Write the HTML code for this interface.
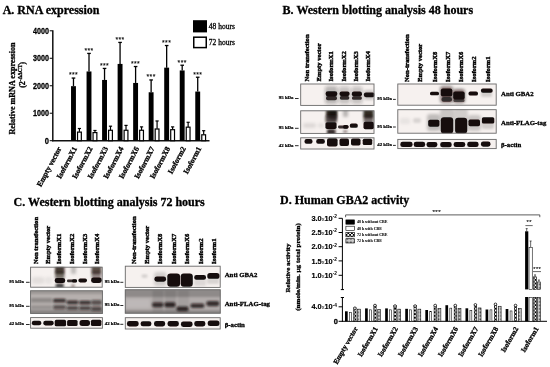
<!DOCTYPE html>
<html><head><meta charset="utf-8"><style>
html,body{margin:0;padding:0;background:#fff;}
svg{display:block;}
text{stroke:#000;stroke-width:0.3px;}
</style></head><body>
<svg width="550" height="367" viewBox="0 0 550 367">
<rect width="550" height="367" fill="#fff"/>
<defs><filter id="bl1" x="-50%" y="-50%" width="200%" height="200%"><feGaussianBlur stdDeviation="0.8"/></filter><filter id="bl2" x="-50%" y="-50%" width="200%" height="200%"><feGaussianBlur stdDeviation="1.1"/></filter><filter id="bl3" x="-50%" y="-50%" width="200%" height="200%"><feGaussianBlur stdDeviation="1.6"/></filter><filter id="bl4" x="-50%" y="-50%" width="200%" height="200%"><feGaussianBlur stdDeviation="2.2"/></filter><filter id="bl5" x="-50%" y="-50%" width="200%" height="200%"><feGaussianBlur stdDeviation="3.0"/></filter><filter id="bl6" x="-50%" y="-50%" width="200%" height="200%"><feGaussianBlur stdDeviation="0.55"/></filter></defs>
<text x="2.70" y="13.60" font-family="'Liberation Serif', 'Times New Roman', serif" font-size="12" font-weight="bold" text-anchor="start" >A. RNA expression</text>
<line x1="52.8" y1="30.2" x2="52.8" y2="141.29999999999998" stroke="#111" stroke-width="1.5"/>
<line x1="52.0" y1="140.7" x2="209.5" y2="140.7" stroke="#111" stroke-width="1.5"/>
<line x1="49.7" y1="140.70" x2="52.5" y2="140.70" stroke="#000" stroke-width="1"/>
<text x="49.00" y="143.90" font-family="'Liberation Sans', Arial, sans-serif" font-size="9" font-weight="bold" text-anchor="end" textLength="4.2" lengthAdjust="spacingAndGlyphs">0</text>
<line x1="49.7" y1="113.22" x2="52.5" y2="113.22" stroke="#000" stroke-width="1"/>
<text x="49.00" y="116.42" font-family="'Liberation Sans', Arial, sans-serif" font-size="9" font-weight="bold" text-anchor="end" textLength="16.0" lengthAdjust="spacingAndGlyphs">1000</text>
<line x1="49.7" y1="85.75" x2="52.5" y2="85.75" stroke="#000" stroke-width="1"/>
<text x="49.00" y="88.95" font-family="'Liberation Sans', Arial, sans-serif" font-size="9" font-weight="bold" text-anchor="end" textLength="16.0" lengthAdjust="spacingAndGlyphs">2000</text>
<line x1="49.7" y1="58.27" x2="52.5" y2="58.27" stroke="#000" stroke-width="1"/>
<text x="49.00" y="61.47" font-family="'Liberation Sans', Arial, sans-serif" font-size="9" font-weight="bold" text-anchor="end" textLength="16.0" lengthAdjust="spacingAndGlyphs">3000</text>
<line x1="49.7" y1="30.80" x2="52.5" y2="30.80" stroke="#000" stroke-width="1"/>
<text x="49.00" y="34.00" font-family="'Liberation Sans', Arial, sans-serif" font-size="9" font-weight="bold" text-anchor="end" textLength="16.0" lengthAdjust="spacingAndGlyphs">4000</text>
<line x1="73.48" y1="78.06" x2="73.48" y2="86.16" stroke="#000" stroke-width="1.3"/>
<line x1="71.68" y1="78.06" x2="75.28" y2="78.06" stroke="#000" stroke-width="1.3"/>
<rect x="71.03" y="86.16" width="4.9" height="54.54" fill="#000"/>
<text x="73.48" y="77.46" font-family="'Liberation Sans', Arial, sans-serif" font-size="6.8" font-weight="normal" text-anchor="middle" letter-spacing="0.4" style="stroke-width:0.1px">***</text>
<line x1="79.43" y1="128.50" x2="79.43" y2="131.80" stroke="#000" stroke-width="1.2"/>
<line x1="77.83" y1="128.50" x2="81.03" y2="128.50" stroke="#000" stroke-width="1.2"/>
<rect x="77.53" y="132.10" width="3.8" height="8.60" fill="#fff" stroke="#000" stroke-width="1.2"/>
<line x1="89.01" y1="53.41" x2="89.01" y2="71.46" stroke="#000" stroke-width="1.3"/>
<line x1="87.21" y1="53.41" x2="90.81" y2="53.41" stroke="#000" stroke-width="1.3"/>
<rect x="86.56" y="71.46" width="4.9" height="69.24" fill="#000"/>
<text x="89.01" y="52.81" font-family="'Liberation Sans', Arial, sans-serif" font-size="6.8" font-weight="normal" text-anchor="middle" letter-spacing="0.4" style="stroke-width:0.1px">***</text>
<line x1="94.96" y1="130.48" x2="94.96" y2="132.29" stroke="#000" stroke-width="1.2"/>
<line x1="93.36" y1="130.48" x2="96.56" y2="130.48" stroke="#000" stroke-width="1.2"/>
<rect x="93.06" y="132.59" width="3.8" height="8.11" fill="#fff" stroke="#000" stroke-width="1.2"/>
<line x1="104.54" y1="68.44" x2="104.54" y2="79.95" stroke="#000" stroke-width="1.3"/>
<line x1="102.74" y1="68.44" x2="106.34" y2="68.44" stroke="#000" stroke-width="1.3"/>
<rect x="102.09" y="79.95" width="4.9" height="60.75" fill="#000"/>
<text x="104.54" y="67.84" font-family="'Liberation Sans', Arial, sans-serif" font-size="6.8" font-weight="normal" text-anchor="middle" letter-spacing="0.4" style="stroke-width:0.1px">***</text>
<line x1="110.49" y1="126.19" x2="110.49" y2="129.98" stroke="#000" stroke-width="1.2"/>
<line x1="108.89" y1="126.19" x2="112.09" y2="126.19" stroke="#000" stroke-width="1.2"/>
<rect x="108.59" y="130.28" width="3.8" height="10.42" fill="#fff" stroke="#000" stroke-width="1.2"/>
<line x1="120.07" y1="42.42" x2="120.07" y2="63.93" stroke="#000" stroke-width="1.3"/>
<line x1="118.27" y1="42.42" x2="121.87" y2="42.42" stroke="#000" stroke-width="1.3"/>
<rect x="117.62" y="63.93" width="4.9" height="76.77" fill="#000"/>
<text x="120.07" y="41.82" font-family="'Liberation Sans', Arial, sans-serif" font-size="6.8" font-weight="normal" text-anchor="middle" letter-spacing="0.4" style="stroke-width:0.1px">***</text>
<line x1="126.02" y1="125.40" x2="126.02" y2="129.98" stroke="#000" stroke-width="1.2"/>
<line x1="124.42" y1="125.40" x2="127.62" y2="125.40" stroke="#000" stroke-width="1.2"/>
<rect x="124.12" y="130.28" width="3.8" height="10.42" fill="#fff" stroke="#000" stroke-width="1.2"/>
<line x1="135.60" y1="66.52" x2="135.60" y2="82.95" stroke="#000" stroke-width="1.3"/>
<line x1="133.80" y1="66.52" x2="137.40" y2="66.52" stroke="#000" stroke-width="1.3"/>
<rect x="133.15" y="82.95" width="4.9" height="57.75" fill="#000"/>
<text x="135.60" y="65.92" font-family="'Liberation Sans', Arial, sans-serif" font-size="6.8" font-weight="normal" text-anchor="middle" letter-spacing="0.4" style="stroke-width:0.1px">***</text>
<line x1="141.55" y1="126.88" x2="141.55" y2="129.98" stroke="#000" stroke-width="1.2"/>
<line x1="139.95" y1="126.88" x2="143.15" y2="126.88" stroke="#000" stroke-width="1.2"/>
<rect x="139.65" y="130.28" width="3.8" height="10.42" fill="#fff" stroke="#000" stroke-width="1.2"/>
<line x1="151.13" y1="79.95" x2="151.13" y2="92.26" stroke="#000" stroke-width="1.3"/>
<line x1="149.33" y1="79.95" x2="152.93" y2="79.95" stroke="#000" stroke-width="1.3"/>
<rect x="148.68" y="92.26" width="4.9" height="48.44" fill="#000"/>
<text x="151.13" y="79.35" font-family="'Liberation Sans', Arial, sans-serif" font-size="6.8" font-weight="normal" text-anchor="middle" letter-spacing="0.4" style="stroke-width:0.1px">***</text>
<line x1="157.08" y1="120.97" x2="157.08" y2="128.69" stroke="#000" stroke-width="1.2"/>
<line x1="155.48" y1="120.97" x2="158.68" y2="120.97" stroke="#000" stroke-width="1.2"/>
<rect x="155.18" y="128.99" width="3.8" height="11.71" fill="#fff" stroke="#000" stroke-width="1.2"/>
<line x1="166.66" y1="45.53" x2="166.66" y2="67.64" stroke="#000" stroke-width="1.3"/>
<line x1="164.86" y1="45.53" x2="168.46" y2="45.53" stroke="#000" stroke-width="1.3"/>
<rect x="164.21" y="67.64" width="4.9" height="73.06" fill="#000"/>
<text x="166.66" y="44.93" font-family="'Liberation Sans', Arial, sans-serif" font-size="6.8" font-weight="normal" text-anchor="middle" letter-spacing="0.4" style="stroke-width:0.1px">***</text>
<line x1="172.61" y1="126.88" x2="172.61" y2="129.38" stroke="#000" stroke-width="1.2"/>
<line x1="171.01" y1="126.88" x2="174.21" y2="126.88" stroke="#000" stroke-width="1.2"/>
<rect x="170.71" y="129.68" width="3.8" height="11.02" fill="#fff" stroke="#000" stroke-width="1.2"/>
<line x1="182.19" y1="65.23" x2="182.19" y2="70.45" stroke="#000" stroke-width="1.3"/>
<line x1="180.39" y1="65.23" x2="183.99" y2="65.23" stroke="#000" stroke-width="1.3"/>
<rect x="179.74" y="70.45" width="4.9" height="70.25" fill="#000"/>
<text x="182.19" y="64.63" font-family="'Liberation Sans', Arial, sans-serif" font-size="6.8" font-weight="normal" text-anchor="middle" letter-spacing="0.4" style="stroke-width:0.1px">***</text>
<line x1="188.14" y1="122.29" x2="188.14" y2="126.88" stroke="#000" stroke-width="1.2"/>
<line x1="186.54" y1="122.29" x2="189.74" y2="122.29" stroke="#000" stroke-width="1.2"/>
<rect x="186.24" y="127.18" width="3.8" height="13.52" fill="#fff" stroke="#000" stroke-width="1.2"/>
<line x1="197.72" y1="77.23" x2="197.72" y2="91.55" stroke="#000" stroke-width="1.3"/>
<line x1="195.92" y1="77.23" x2="199.52" y2="77.23" stroke="#000" stroke-width="1.3"/>
<rect x="195.27" y="91.55" width="4.9" height="49.15" fill="#000"/>
<text x="197.72" y="76.63" font-family="'Liberation Sans', Arial, sans-serif" font-size="6.8" font-weight="normal" text-anchor="middle" letter-spacing="0.4" style="stroke-width:0.1px">***</text>
<line x1="203.67" y1="130.70" x2="203.67" y2="134.49" stroke="#000" stroke-width="1.2"/>
<line x1="202.07" y1="130.70" x2="205.27" y2="130.70" stroke="#000" stroke-width="1.2"/>
<rect x="201.77" y="134.79" width="3.8" height="5.91" fill="#fff" stroke="#000" stroke-width="1.2"/>
<text transform="translate(61.70,148.4) rotate(-62)" font-family="'Liberation Serif', 'Times New Roman', serif" font-size="7.6" font-weight="bold" text-anchor="end">Empty vector</text>
<text transform="translate(77.23,148.4) rotate(-62)" font-family="'Liberation Serif', 'Times New Roman', serif" font-size="7.6" font-weight="bold" text-anchor="end">IsoformX1</text>
<text transform="translate(92.76,148.4) rotate(-62)" font-family="'Liberation Serif', 'Times New Roman', serif" font-size="7.6" font-weight="bold" text-anchor="end">IsoformX2</text>
<text transform="translate(108.29,148.4) rotate(-62)" font-family="'Liberation Serif', 'Times New Roman', serif" font-size="7.6" font-weight="bold" text-anchor="end">IsoformX3</text>
<text transform="translate(123.82,148.4) rotate(-62)" font-family="'Liberation Serif', 'Times New Roman', serif" font-size="7.6" font-weight="bold" text-anchor="end">IsoformX4</text>
<text transform="translate(139.35,148.4) rotate(-62)" font-family="'Liberation Serif', 'Times New Roman', serif" font-size="7.6" font-weight="bold" text-anchor="end">IsoformX6</text>
<text transform="translate(154.88,148.4) rotate(-62)" font-family="'Liberation Serif', 'Times New Roman', serif" font-size="7.6" font-weight="bold" text-anchor="end">IsoformX7</text>
<text transform="translate(170.41,148.4) rotate(-62)" font-family="'Liberation Serif', 'Times New Roman', serif" font-size="7.6" font-weight="bold" text-anchor="end">IsoformX8</text>
<text transform="translate(185.94,148.4) rotate(-62)" font-family="'Liberation Serif', 'Times New Roman', serif" font-size="7.6" font-weight="bold" text-anchor="end">Isoform2</text>
<text transform="translate(201.47,148.4) rotate(-62)" font-family="'Liberation Serif', 'Times New Roman', serif" font-size="7.6" font-weight="bold" text-anchor="end">Isoform1</text>
<text transform="translate(15.2,88.6) rotate(-90)" font-family="'Liberation Serif', 'Times New Roman', serif" font-size="8.2" font-weight="bold" text-anchor="middle" textLength="92" lengthAdjust="spacingAndGlyphs">Relative mRNA expression</text>
<text transform="translate(25.4,74.8) rotate(-90)" font-family="'Liberation Serif', 'Times New Roman', serif" font-size="8" font-weight="bold" text-anchor="middle">(2<tspan font-size="5.6" dy="-3.4">-ΔΔCT</tspan><tspan dy="3.4">)</tspan></text>
<rect x="193.0" y="20.2" width="14.0" height="12.2" fill="#000"/>
<rect x="193.75" y="37.2" width="12.5" height="10.4" fill="#fff" stroke="#000" stroke-width="1.5"/>
<text x="208.80" y="29.20" font-family="'Liberation Serif', 'Times New Roman', serif" font-size="8.3" font-weight="normal" text-anchor="start" textLength="26" lengthAdjust="spacingAndGlyphs">48 hours</text>
<text x="208.80" y="45.20" font-family="'Liberation Serif', 'Times New Roman', serif" font-size="8.3" font-weight="normal" text-anchor="start" textLength="26" lengthAdjust="spacingAndGlyphs">72 hours</text>
<text x="282.60" y="14.20" font-family="'Liberation Serif', 'Times New Roman', serif" font-size="12" font-weight="bold" text-anchor="start" >B. Western blotting analysis 48 hours</text>
<text transform="translate(309.38,81.50) rotate(-90)" font-family="'Liberation Serif', 'Times New Roman', serif" font-size="6.6" font-weight="bold" style="stroke-width:0.4px">Non transfection</text>
<text transform="translate(321.38,81.50) rotate(-90)" font-family="'Liberation Serif', 'Times New Roman', serif" font-size="6.6" font-weight="bold" style="stroke-width:0.4px">Empty vector</text>
<text transform="translate(332.58,81.50) rotate(-90)" font-family="'Liberation Serif', 'Times New Roman', serif" font-size="6.6" font-weight="bold" style="stroke-width:0.4px">IsoformX1</text>
<text transform="translate(345.78,81.50) rotate(-90)" font-family="'Liberation Serif', 'Times New Roman', serif" font-size="6.6" font-weight="bold" style="stroke-width:0.4px">IsoformX2</text>
<text transform="translate(357.98,81.50) rotate(-90)" font-family="'Liberation Serif', 'Times New Roman', serif" font-size="6.6" font-weight="bold" style="stroke-width:0.4px">IsoformX3</text>
<text transform="translate(370.28,81.50) rotate(-90)" font-family="'Liberation Serif', 'Times New Roman', serif" font-size="6.6" font-weight="bold" style="stroke-width:0.4px">IsoformX4</text>
<text transform="translate(408.58,82.00) rotate(-90)" font-family="'Liberation Serif', 'Times New Roman', serif" font-size="6.6" font-weight="bold" style="stroke-width:0.4px">Non-transfection</text>
<text transform="translate(422.18,82.00) rotate(-90)" font-family="'Liberation Serif', 'Times New Roman', serif" font-size="6.6" font-weight="bold" style="stroke-width:0.4px">Empty vector</text>
<text transform="translate(436.68,82.00) rotate(-90)" font-family="'Liberation Serif', 'Times New Roman', serif" font-size="6.6" font-weight="bold" style="stroke-width:0.4px">IsoformX8</text>
<text transform="translate(449.58,82.00) rotate(-90)" font-family="'Liberation Serif', 'Times New Roman', serif" font-size="6.6" font-weight="bold" style="stroke-width:0.4px">IsoformX7</text>
<text transform="translate(462.88,82.00) rotate(-90)" font-family="'Liberation Serif', 'Times New Roman', serif" font-size="6.6" font-weight="bold" style="stroke-width:0.4px">IsoformX6</text>
<text transform="translate(475.98,82.00) rotate(-90)" font-family="'Liberation Serif', 'Times New Roman', serif" font-size="6.6" font-weight="bold" style="stroke-width:0.4px">Isoform2</text>
<text transform="translate(490.38,82.00) rotate(-90)" font-family="'Liberation Serif', 'Times New Roman', serif" font-size="6.6" font-weight="bold" style="stroke-width:0.4px">Isoform1</text>
<clipPath id="c1"><rect x="300.3" y="83.6" width="74.10" height="22.20"/></clipPath>
<rect x="300.3" y="83.6" width="74.10" height="22.20" fill="#f6f1ef"/>
<g clip-path="url(#c1)">
<rect x="325.00" y="86.00" width="12.50" height="18.00" rx="3.12" fill="#222" fill-opacity="0.28" filter="url(#bl3)"/>
<rect x="325.60" y="91.30" width="11.70" height="5.10" rx="2.30" fill="#140c0c" fill-opacity="1.0" filter="url(#bl6)"/>
<rect x="326.00" y="96.00" width="11.00" height="4.20" rx="1.89" fill="#140c0c" fill-opacity="0.85" filter="url(#bl6)"/>
<rect x="338.80" y="86.50" width="11.20" height="17.50" rx="2.80" fill="#222" fill-opacity="0.22" filter="url(#bl3)"/>
<rect x="339.50" y="91.50" width="10.10" height="4.70" rx="2.12" fill="#140c0c" fill-opacity="1.0" filter="url(#bl6)"/>
<rect x="339.80" y="96.00" width="9.50" height="3.80" rx="1.71" fill="#140c0c" fill-opacity="0.85" filter="url(#bl6)"/>
<rect x="351.50" y="86.50" width="11.00" height="17.50" rx="2.75" fill="#222" fill-opacity="0.22" filter="url(#bl3)"/>
<rect x="351.80" y="91.60" width="10.20" height="4.80" rx="2.16" fill="#140c0c" fill-opacity="1.0" filter="url(#bl6)"/>
<rect x="352.00" y="96.20" width="9.80" height="3.60" rx="1.62" fill="#140c0c" fill-opacity="0.85" filter="url(#bl6)"/>
<rect x="363.80" y="92.40" width="11.00" height="4.80" rx="2.16" fill="#140c0c" fill-opacity="1.0" filter="url(#bl6)"/>
<rect x="364.00" y="90.00" width="10.00" height="10.00" rx="2.50" fill="#222" fill-opacity="0.2" filter="url(#bl2)"/>
</g>
<rect x="300.7" y="84.0" width="73.30" height="21.40" fill="none" stroke="#6a6a6a" stroke-width="0.9"/>
<clipPath id="c2"><rect x="300.3" y="110.4" width="74.10" height="23.40"/></clipPath>
<rect x="300.3" y="110.4" width="74.10" height="23.40" fill="#f6f1ef"/>
<g clip-path="url(#c2)">
<rect x="303.00" y="123.00" width="13.00" height="5.00" rx="2.25" fill="#140c0c" fill-opacity="0.1" filter="url(#bl3)"/>
<rect x="318.00" y="123.00" width="6.00" height="5.00" rx="2.25" fill="#140c0c" fill-opacity="0.08" filter="url(#bl3)"/>
<rect x="326.00" y="109.00" width="11.00" height="8.00" rx="2.00" fill="#1c1410" fill-opacity="0.9" filter="url(#bl2)"/>
<rect x="329.00" y="109.00" width="8.00" height="11.00" rx="2.00" fill="#000" fill-opacity="0.5" filter="url(#bl2)"/>
<rect x="325.50" y="115.00" width="11.50" height="8.00" rx="2.00" fill="#1c1410" fill-opacity="0.75" filter="url(#bl2)"/>
<rect x="325.40" y="122.20" width="11.20" height="6.80" rx="1.70" fill="#140c0c" fill-opacity="1.0" filter="url(#bl6)"/>
<rect x="327.00" y="129.00" width="8.50" height="6.00" rx="1.50" fill="#140c0c" fill-opacity="0.85" filter="url(#bl2)"/>
<rect x="338.00" y="125.40" width="10.50" height="3.00" rx="1.35" fill="#140c0c" fill-opacity="0.85" filter="url(#bl6)"/>
<rect x="343.00" y="125.00" width="5.50" height="3.80" rx="1.71" fill="#140c0c" fill-opacity="1.0" filter="url(#bl6)"/>
<rect x="343.00" y="108.00" width="5.00" height="9.00" rx="1.25" fill="#140c0c" fill-opacity="0.25" filter="url(#bl3)"/>
<rect x="343.00" y="130.00" width="4.50" height="3.00" rx="1.35" fill="#140c0c" fill-opacity="0.4" filter="url(#bl2)"/>
<rect x="349.80" y="123.60" width="8.00" height="4.20" rx="1.89" fill="#140c0c" fill-opacity="1.0" filter="url(#bl6)"/>
<rect x="363.50" y="109.00" width="10.00" height="9.00" rx="2.25" fill="#1c1410" fill-opacity="0.9" filter="url(#bl2)"/>
<rect x="363.50" y="115.00" width="10.00" height="8.00" rx="2.00" fill="#1c1410" fill-opacity="0.6" filter="url(#bl2)"/>
<rect x="363.50" y="121.80" width="10.50" height="7.40" rx="1.85" fill="#140c0c" fill-opacity="1.0" filter="url(#bl6)"/>
</g>
<rect x="300.7" y="110.80000000000001" width="73.30" height="22.60" fill="none" stroke="#6a6a6a" stroke-width="0.9"/>
<clipPath id="c3"><rect x="300.3" y="137.4" width="74.10" height="12.00"/></clipPath>
<rect x="300.3" y="137.4" width="74.10" height="12.00" fill="#f6f1ef"/>
<g clip-path="url(#c3)">
<rect x="304.50" y="139.10" width="8.00" height="4.60" rx="2.07" fill="#140c0c" fill-opacity="1.0" filter="url(#bl6)"/>
<rect x="316.20" y="139.10" width="8.70" height="4.60" rx="2.07" fill="#140c0c" fill-opacity="1.0" filter="url(#bl6)"/>
<rect x="327.00" y="138.30" width="10.60" height="8.20" rx="2.05" fill="#140c0c" fill-opacity="1.0" filter="url(#bl6)"/>
<rect x="339.50" y="138.50" width="9.50" height="7.50" rx="1.88" fill="#140c0c" fill-opacity="1.0" filter="url(#bl6)"/>
<rect x="351.00" y="138.50" width="9.50" height="7.00" rx="1.75" fill="#140c0c" fill-opacity="1.0" filter="url(#bl6)"/>
<rect x="362.70" y="138.70" width="9.50" height="6.30" rx="1.58" fill="#140c0c" fill-opacity="1.0" filter="url(#bl6)"/>
</g>
<rect x="300.7" y="137.8" width="73.30" height="11.20" fill="none" stroke="#6a6a6a" stroke-width="0.9"/>
<clipPath id="c4"><rect x="397.4" y="83.6" width="99.20" height="22.00"/></clipPath>
<rect x="397.4" y="83.6" width="99.20" height="22.00" fill="#f6f1ef"/>
<g clip-path="url(#c4)">
<rect x="430.00" y="91.70" width="9.00" height="3.60" rx="1.62" fill="#140c0c" fill-opacity="1.0" filter="url(#bl6)"/>
<rect x="440.00" y="86.00" width="13.00" height="17.00" rx="3.25" fill="#140c0c" fill-opacity="0.45" filter="url(#bl3)"/>
<rect x="440.80" y="88.60" width="11.50" height="8.00" rx="2.00" fill="#140c0c" fill-opacity="1.0" filter="url(#bl6)"/>
<rect x="441.50" y="97.00" width="10.50" height="4.80" rx="2.16" fill="#140c0c" fill-opacity="0.75" filter="url(#bl6)"/>
<rect x="453.00" y="89.00" width="12.00" height="14.00" rx="3.00" fill="#140c0c" fill-opacity="0.5" filter="url(#bl3)"/>
<rect x="453.20" y="91.60" width="11.50" height="8.00" rx="2.00" fill="#140c0c" fill-opacity="1.0" filter="url(#bl6)"/>
<rect x="453.50" y="99.00" width="11.00" height="3.00" rx="1.35" fill="#140c0c" fill-opacity="0.6" filter="url(#bl6)"/>
<rect x="468.50" y="91.40" width="9.50" height="4.20" rx="1.89" fill="#140c0c" fill-opacity="1.0" filter="url(#bl6)"/>
<rect x="480.90" y="88.40" width="11.80" height="4.40" rx="1.98" fill="#140c0c" fill-opacity="1.0" filter="url(#bl6)"/>
<rect x="481.00" y="91.00" width="11.00" height="6.00" rx="1.50" fill="#140c0c" fill-opacity="0.15" filter="url(#bl2)"/>
</g>
<rect x="397.79999999999995" y="84.0" width="98.40" height="21.20" fill="none" stroke="#6a6a6a" stroke-width="0.9"/>
<clipPath id="c5"><rect x="397.4" y="109.3" width="99.20" height="24.30"/></clipPath>
<rect x="397.4" y="109.3" width="99.20" height="24.30" fill="#f6f1ef"/>
<g clip-path="url(#c5)">
<rect x="400.00" y="118.00" width="10.00" height="6.00" rx="1.50" fill="#140c0c" fill-opacity="0.06" filter="url(#bl3)"/>
<rect x="413.00" y="118.00" width="8.00" height="5.00" rx="2.25" fill="#140c0c" fill-opacity="0.12" filter="url(#bl2)"/>
<rect x="427.00" y="114.00" width="13.00" height="17.00" rx="3.25" fill="#140c0c" fill-opacity="0.22" filter="url(#bl3)"/>
<rect x="428.20" y="119.80" width="11.20" height="7.00" rx="1.75" fill="#140c0c" fill-opacity="1.0" filter="url(#bl6)"/>
<rect x="440.00" y="108.00" width="14.00" height="25.00" rx="3.50" fill="#140c0c" fill-opacity="0.18" filter="url(#bl3)"/>
<rect x="440.80" y="117.20" width="12.40" height="16.30" rx="3.10" fill="#140c0c" fill-opacity="1.0" filter="url(#bl6)"/>
<rect x="454.00" y="108.00" width="14.00" height="25.00" rx="3.50" fill="#140c0c" fill-opacity="0.15" filter="url(#bl3)"/>
<rect x="455.10" y="117.80" width="12.10" height="15.70" rx="3.02" fill="#140c0c" fill-opacity="1.0" filter="url(#bl6)"/>
<rect x="468.00" y="115.00" width="13.00" height="16.00" rx="3.25" fill="#140c0c" fill-opacity="0.18" filter="url(#bl3)"/>
<rect x="468.50" y="119.60" width="11.50" height="6.60" rx="1.65" fill="#140c0c" fill-opacity="1.0" filter="url(#bl6)"/>
<rect x="481.90" y="117.20" width="12.40" height="6.40" rx="1.60" fill="#140c0c" fill-opacity="1.0" filter="url(#bl6)"/>
<rect x="482.00" y="120.00" width="12.00" height="9.00" rx="2.25" fill="#140c0c" fill-opacity="0.15" filter="url(#bl2)"/>
</g>
<rect x="397.79999999999995" y="109.7" width="98.40" height="23.50" fill="none" stroke="#6a6a6a" stroke-width="0.9"/>
<clipPath id="c6"><rect x="397.4" y="139.0" width="99.20" height="10.00"/></clipPath>
<rect x="397.4" y="139.0" width="99.20" height="10.00" fill="#f6f1ef"/>
<g clip-path="url(#c6)">
<rect x="400.30" y="141.80" width="12.30" height="5.20" rx="2.34" fill="#140c0c" fill-opacity="1.0" filter="url(#bl6)"/>
<rect x="413.70" y="141.80" width="11.50" height="5.20" rx="2.34" fill="#140c0c" fill-opacity="1.0" filter="url(#bl6)"/>
<rect x="426.50" y="142.00" width="10.90" height="5.20" rx="2.34" fill="#140c0c" fill-opacity="1.0" filter="url(#bl6)"/>
<rect x="440.20" y="142.10" width="11.50" height="5.20" rx="2.34" fill="#140c0c" fill-opacity="1.0" filter="url(#bl6)"/>
<rect x="453.60" y="141.90" width="11.70" height="5.20" rx="2.34" fill="#140c0c" fill-opacity="1.0" filter="url(#bl6)"/>
<rect x="467.20" y="141.80" width="11.40" height="5.20" rx="2.34" fill="#140c0c" fill-opacity="1.0" filter="url(#bl6)"/>
<rect x="480.90" y="141.50" width="9.60" height="5.20" rx="2.34" fill="#140c0c" fill-opacity="1.0" filter="url(#bl6)"/>
</g>
<rect x="397.79999999999995" y="139.4" width="98.40" height="9.20" fill="none" stroke="#6a6a6a" stroke-width="0.9"/>
<text x="293.50" y="99.35" font-family="'Liberation Serif', 'Times New Roman', serif" font-size="4.85" font-weight="bold" text-anchor="end" style="stroke-width:0.2px">95 kDa</text>
<line x1="295.0" y1="98.50" x2="298.6" y2="98.50" stroke="#111" stroke-width="0.9"/>
<text x="293.50" y="129.15" font-family="'Liberation Serif', 'Times New Roman', serif" font-size="4.85" font-weight="bold" text-anchor="end" style="stroke-width:0.2px">95 kDa</text>
<line x1="295.0" y1="128.30" x2="298.6" y2="128.30" stroke="#111" stroke-width="0.9"/>
<text x="293.50" y="146.55" font-family="'Liberation Serif', 'Times New Roman', serif" font-size="4.85" font-weight="bold" text-anchor="end" style="stroke-width:0.2px">42 kDa</text>
<line x1="295.0" y1="145.70" x2="298.6" y2="145.70" stroke="#111" stroke-width="0.9"/>
<text x="391.90" y="100.25" font-family="'Liberation Serif', 'Times New Roman', serif" font-size="4.85" font-weight="bold" text-anchor="end" style="stroke-width:0.2px">95 kDa</text>
<line x1="393.0" y1="99.40" x2="395.8" y2="99.40" stroke="#111" stroke-width="0.9"/>
<text x="391.90" y="127.85" font-family="'Liberation Serif', 'Times New Roman', serif" font-size="4.85" font-weight="bold" text-anchor="end" style="stroke-width:0.2px">95 kDa</text>
<line x1="393.0" y1="127.00" x2="395.8" y2="127.00" stroke="#111" stroke-width="0.9"/>
<text x="391.90" y="146.25" font-family="'Liberation Serif', 'Times New Roman', serif" font-size="4.85" font-weight="bold" text-anchor="end" style="stroke-width:0.2px">42 kDa</text>
<line x1="393.0" y1="145.40" x2="395.8" y2="145.40" stroke="#111" stroke-width="0.9"/>
<text x="501.00" y="95.90" font-family="'Liberation Serif', 'Times New Roman', serif" font-size="6.8" font-weight="bold" text-anchor="start" >Anti GBA2</text>
<text x="501.00" y="124.90" font-family="'Liberation Serif', 'Times New Roman', serif" font-size="6.8" font-weight="bold" text-anchor="start" >Anti-FLAG-tag</text>
<text x="501.00" y="146.70" font-family="'Liberation Serif', 'Times New Roman', serif" font-size="6.8" font-weight="bold" text-anchor="start" >β-actin</text>
<text x="13.60" y="206.00" font-family="'Liberation Serif', 'Times New Roman', serif" font-size="12" font-weight="bold" text-anchor="start" >C. Western blotting analysis 72 hours</text>
<text transform="translate(38.38,264.00) rotate(-90)" font-family="'Liberation Serif', 'Times New Roman', serif" font-size="6.6" font-weight="bold" style="stroke-width:0.4px">Non transfection</text>
<text transform="translate(50.18,264.00) rotate(-90)" font-family="'Liberation Serif', 'Times New Roman', serif" font-size="6.6" font-weight="bold" style="stroke-width:0.4px">Empty vector</text>
<text transform="translate(61.48,264.00) rotate(-90)" font-family="'Liberation Serif', 'Times New Roman', serif" font-size="6.6" font-weight="bold" style="stroke-width:0.4px">IsoformX1</text>
<text transform="translate(73.88,264.00) rotate(-90)" font-family="'Liberation Serif', 'Times New Roman', serif" font-size="6.6" font-weight="bold" style="stroke-width:0.4px">IsoformX2</text>
<text transform="translate(86.58,264.00) rotate(-90)" font-family="'Liberation Serif', 'Times New Roman', serif" font-size="6.6" font-weight="bold" style="stroke-width:0.4px">IsoformX3</text>
<text transform="translate(99.28,264.00) rotate(-90)" font-family="'Liberation Serif', 'Times New Roman', serif" font-size="6.6" font-weight="bold" style="stroke-width:0.4px">IsoformX4</text>
<text transform="translate(135.58,264.00) rotate(-90)" font-family="'Liberation Serif', 'Times New Roman', serif" font-size="6.6" font-weight="bold" style="stroke-width:0.4px">Non-transfection</text>
<text transform="translate(149.18,264.00) rotate(-90)" font-family="'Liberation Serif', 'Times New Roman', serif" font-size="6.6" font-weight="bold" style="stroke-width:0.4px">Empty vector</text>
<text transform="translate(162.18,264.00) rotate(-90)" font-family="'Liberation Serif', 'Times New Roman', serif" font-size="6.6" font-weight="bold" style="stroke-width:0.4px">IsoformX8</text>
<text transform="translate(175.58,264.00) rotate(-90)" font-family="'Liberation Serif', 'Times New Roman', serif" font-size="6.6" font-weight="bold" style="stroke-width:0.4px">IsoformX7</text>
<text transform="translate(189.18,264.00) rotate(-90)" font-family="'Liberation Serif', 'Times New Roman', serif" font-size="6.6" font-weight="bold" style="stroke-width:0.4px">IsoformX6</text>
<text transform="translate(202.58,264.00) rotate(-90)" font-family="'Liberation Serif', 'Times New Roman', serif" font-size="6.6" font-weight="bold" style="stroke-width:0.4px">Isoform2</text>
<text transform="translate(216.18,264.00) rotate(-90)" font-family="'Liberation Serif', 'Times New Roman', serif" font-size="6.6" font-weight="bold" style="stroke-width:0.4px">Isoform1</text>
<clipPath id="c7"><rect x="30.2" y="266.8" width="72.40" height="20.80"/></clipPath>
<rect x="30.2" y="266.8" width="72.40" height="20.80" fill="#f6f1ef"/>
<g clip-path="url(#c7)">
<rect x="32.00" y="277.00" width="12.00" height="7.00" rx="1.75" fill="#140c0c" fill-opacity="0.08" filter="url(#bl3)"/>
<rect x="45.00" y="277.00" width="7.00" height="7.00" rx="1.75" fill="#140c0c" fill-opacity="0.06" filter="url(#bl3)"/>
<rect x="55.00" y="265.00" width="9.50" height="9.00" rx="2.25" fill="#2a1c16" fill-opacity="0.85" filter="url(#bl2)"/>
<rect x="55.00" y="271.00" width="9.50" height="8.00" rx="2.00" fill="#2a1c16" fill-opacity="0.6" filter="url(#bl2)"/>
<rect x="54.70" y="278.00" width="10.50" height="5.00" rx="2.25" fill="#140c0c" fill-opacity="1.0" filter="url(#bl6)"/>
<rect x="55.50" y="283.20" width="8.50" height="5.30" rx="2.39" fill="#140c0c" fill-opacity="0.75" filter="url(#bl2)"/>
<rect x="67.00" y="279.60" width="10.00" height="2.60" rx="1.17" fill="#140c0c" fill-opacity="0.85" filter="url(#bl6)"/>
<rect x="72.00" y="279.20" width="5.00" height="3.40" rx="1.53" fill="#140c0c" fill-opacity="1.0" filter="url(#bl6)"/>
<rect x="71.00" y="264.00" width="5.00" height="10.00" rx="1.25" fill="#140c0c" fill-opacity="0.22" filter="url(#bl3)"/>
<rect x="71.00" y="284.00" width="4.00" height="4.00" rx="1.80" fill="#140c0c" fill-opacity="0.35" filter="url(#bl2)"/>
<rect x="78.40" y="278.40" width="8.60" height="4.00" rx="1.80" fill="#140c0c" fill-opacity="1.0" filter="url(#bl6)"/>
<rect x="91.50" y="265.00" width="9.70" height="9.00" rx="2.25" fill="#2a1c16" fill-opacity="0.75" filter="url(#bl2)"/>
<rect x="91.50" y="271.00" width="9.70" height="8.00" rx="2.00" fill="#2a1c16" fill-opacity="0.5" filter="url(#bl2)"/>
<rect x="91.10" y="277.60" width="10.70" height="5.40" rx="2.43" fill="#140c0c" fill-opacity="1.0" filter="url(#bl6)"/>
</g>
<rect x="30.599999999999998" y="267.2" width="71.60" height="20.00" fill="none" stroke="#6a6a6a" stroke-width="0.9"/>
<clipPath id="c8"><rect x="30.2" y="290.4" width="72.60" height="23.40"/></clipPath>
<rect x="30.2" y="290.4" width="72.60" height="23.40" fill="#f6f1ef"/>
<g clip-path="url(#c8)">
<rect x="28.00" y="288.00" width="77.00" height="28.00" rx="0.00" fill="#3a3333" fill-opacity="0.34"/>
<rect x="28.00" y="288.00" width="77.00" height="6.00" rx="0.00" fill="#000" fill-opacity="0.15" filter="url(#bl2)"/>
<rect x="28.00" y="310.00" width="77.00" height="6.00" rx="0.00" fill="#000" fill-opacity="0.25" filter="url(#bl2)"/>
<rect x="31.00" y="298.00" width="21.00" height="4.50" rx="0.00" fill="#000" fill-opacity="0.22" filter="url(#bl2)"/>
<rect x="31.00" y="305.50" width="21.00" height="3.50" rx="0.00" fill="#000" fill-opacity="0.18" filter="url(#bl2)"/>
<rect x="53.00" y="298.80" width="13.00" height="3.80" rx="1.71" fill="#1a1010" fill-opacity="0.8" filter="url(#bl1)"/>
<rect x="53.00" y="305.00" width="13.00" height="4.50" rx="2.02" fill="#1a1010" fill-opacity="0.6" filter="url(#bl2)"/>
<rect x="66.50" y="300.60" width="12.00" height="3.60" rx="1.62" fill="#1a1010" fill-opacity="0.8" filter="url(#bl1)"/>
<rect x="66.50" y="306.00" width="12.00" height="4.00" rx="1.80" fill="#1a1010" fill-opacity="0.65" filter="url(#bl2)"/>
<rect x="79.00" y="300.80" width="12.00" height="3.60" rx="1.62" fill="#1a1010" fill-opacity="0.8" filter="url(#bl1)"/>
<rect x="79.00" y="306.20" width="12.00" height="3.80" rx="1.71" fill="#1a1010" fill-opacity="0.7" filter="url(#bl2)"/>
<rect x="91.00" y="300.00" width="11.00" height="5.00" rx="2.25" fill="#1a1010" fill-opacity="0.6" filter="url(#bl2)"/>
<rect x="91.00" y="306.50" width="11.00" height="4.50" rx="2.02" fill="#1a1010" fill-opacity="0.65" filter="url(#bl2)"/>
</g>
<rect x="30.599999999999998" y="290.79999999999995" width="71.80" height="22.60" fill="none" stroke="#6a6a6a" stroke-width="0.9"/>
<clipPath id="c9"><rect x="30.2" y="317.2" width="72.60" height="11.40"/></clipPath>
<rect x="30.2" y="317.2" width="72.60" height="11.40" fill="#f6f1ef"/>
<g clip-path="url(#c9)">
<rect x="31.80" y="320.70" width="9.50" height="4.60" rx="2.07" fill="#140c0c" fill-opacity="1.0" filter="url(#bl6)"/>
<rect x="43.30" y="320.70" width="10.40" height="4.80" rx="2.16" fill="#140c0c" fill-opacity="1.0" filter="url(#bl6)"/>
<rect x="54.70" y="319.80" width="11.40" height="6.50" rx="1.62" fill="#140c0c" fill-opacity="1.0" filter="url(#bl6)"/>
<rect x="67.10" y="320.10" width="10.50" height="6.00" rx="1.50" fill="#140c0c" fill-opacity="1.0" filter="url(#bl6)"/>
<rect x="79.50" y="320.10" width="10.50" height="5.80" rx="2.61" fill="#140c0c" fill-opacity="1.0" filter="url(#bl6)"/>
<rect x="90.90" y="319.70" width="10.50" height="6.40" rx="1.60" fill="#140c0c" fill-opacity="1.0" filter="url(#bl6)"/>
</g>
<rect x="30.599999999999998" y="317.59999999999997" width="71.80" height="10.60" fill="none" stroke="#6a6a6a" stroke-width="0.9"/>
<clipPath id="c10"><rect x="124.9" y="265.8" width="95.70" height="22.00"/></clipPath>
<rect x="124.9" y="265.8" width="95.70" height="22.00" fill="#f6f1ef"/>
<g clip-path="url(#c10)">
<rect x="141.60" y="274.60" width="5.90" height="3.20" rx="1.44" fill="#140c0c" fill-opacity="0.15" filter="url(#bl2)"/>
<rect x="154.00" y="272.00" width="12.50" height="14.00" rx="3.12" fill="#140c0c" fill-opacity="0.15" filter="url(#bl3)"/>
<rect x="154.40" y="276.40" width="11.70" height="5.40" rx="2.43" fill="#140c0c" fill-opacity="1.0" filter="url(#bl6)"/>
<rect x="167.30" y="273.40" width="12.80" height="13.40" rx="3.20" fill="#140c0c" fill-opacity="1.0" filter="url(#bl6)"/>
<rect x="180.70" y="273.40" width="12.10" height="13.40" rx="3.03" fill="#140c0c" fill-opacity="1.0" filter="url(#bl6)"/>
<rect x="194.20" y="275.00" width="11.80" height="4.80" rx="2.16" fill="#140c0c" fill-opacity="1.0" filter="url(#bl6)"/>
<rect x="194.00" y="279.00" width="12.00" height="7.00" rx="1.75" fill="#140c0c" fill-opacity="0.1" filter="url(#bl2)"/>
<rect x="207.30" y="273.00" width="12.20" height="5.80" rx="2.61" fill="#140c0c" fill-opacity="1.0" filter="url(#bl6)"/>
<rect x="207.00" y="278.00" width="12.00" height="6.00" rx="1.50" fill="#140c0c" fill-opacity="0.12" filter="url(#bl2)"/>
</g>
<rect x="125.30000000000001" y="266.2" width="94.90" height="21.20" fill="none" stroke="#6a6a6a" stroke-width="0.9"/>
<clipPath id="c11"><rect x="124.9" y="289.4" width="95.70" height="24.20"/></clipPath>
<rect x="124.9" y="289.4" width="95.70" height="24.20" fill="#f6f1ef"/>
<g clip-path="url(#c11)">
<rect x="122.00" y="287.00" width="101.00" height="29.00" rx="0.00" fill="#3a3333" fill-opacity="0.36"/>
<rect x="122.00" y="287.00" width="101.00" height="10.00" rx="0.00" fill="#000" fill-opacity="0.2" filter="url(#bl2)"/>
<rect x="122.00" y="310.50" width="101.00" height="5.50" rx="0.00" fill="#000" fill-opacity="0.25" filter="url(#bl2)"/>
<rect x="126.00" y="299.00" width="24.00" height="9.00" rx="0.00" fill="#fff" fill-opacity="0.15" filter="url(#bl3)"/>
<rect x="152.50" y="290.00" width="11.00" height="22.00" rx="0.00" fill="#000" fill-opacity="0.1" filter="url(#bl2)"/>
<rect x="165.00" y="290.00" width="11.00" height="22.00" rx="0.00" fill="#000" fill-opacity="0.1" filter="url(#bl2)"/>
<rect x="178.00" y="290.00" width="11.00" height="22.00" rx="0.00" fill="#000" fill-opacity="0.08" filter="url(#bl2)"/>
<rect x="152.00" y="302.40" width="11.50" height="4.80" rx="2.16" fill="#1a1010" fill-opacity="0.8" filter="url(#bl2)"/>
<rect x="164.30" y="302.20" width="11.30" height="5.00" rx="2.25" fill="#1a1010" fill-opacity="0.85" filter="url(#bl2)"/>
<rect x="176.30" y="306.60" width="12.20" height="4.60" rx="2.07" fill="#1a1010" fill-opacity="0.85" filter="url(#bl2)"/>
<rect x="190.40" y="303.40" width="14.00" height="4.60" rx="2.07" fill="#1a1010" fill-opacity="0.8" filter="url(#bl2)"/>
<rect x="206.30" y="301.00" width="13.10" height="5.20" rx="2.34" fill="#1a1010" fill-opacity="0.8" filter="url(#bl2)"/>
</g>
<rect x="125.30000000000001" y="289.79999999999995" width="94.90" height="23.40" fill="none" stroke="#6a6a6a" stroke-width="0.9"/>
<clipPath id="c12"><rect x="124.9" y="317.3" width="95.70" height="12.10"/></clipPath>
<rect x="124.9" y="317.3" width="95.70" height="12.10" fill="#f6f1ef"/>
<g clip-path="url(#c12)">
<rect x="126.90" y="321.10" width="11.80" height="5.40" rx="2.43" fill="#140c0c" fill-opacity="1.0" filter="url(#bl6)"/>
<rect x="140.60" y="321.30" width="10.80" height="5.00" rx="2.25" fill="#140c0c" fill-opacity="1.0" filter="url(#bl6)"/>
<rect x="154.00" y="321.10" width="11.20" height="5.40" rx="2.43" fill="#140c0c" fill-opacity="1.0" filter="url(#bl6)"/>
<rect x="167.50" y="321.10" width="11.40" height="5.40" rx="2.43" fill="#140c0c" fill-opacity="1.0" filter="url(#bl6)"/>
<rect x="180.90" y="321.50" width="11.70" height="5.40" rx="2.43" fill="#140c0c" fill-opacity="1.0" filter="url(#bl6)"/>
<rect x="194.20" y="321.10" width="11.20" height="5.40" rx="2.43" fill="#140c0c" fill-opacity="1.0" filter="url(#bl6)"/>
<rect x="207.70" y="320.50" width="11.80" height="5.60" rx="2.52" fill="#140c0c" fill-opacity="1.0" filter="url(#bl6)"/>
</g>
<rect x="125.30000000000001" y="317.7" width="94.90" height="11.30" fill="none" stroke="#6a6a6a" stroke-width="0.9"/>
<text x="23.90" y="283.15" font-family="'Liberation Serif', 'Times New Roman', serif" font-size="4.85" font-weight="bold" text-anchor="end" style="stroke-width:0.2px">95 kDa</text>
<line x1="26.0" y1="282.30" x2="29.6" y2="282.30" stroke="#111" stroke-width="0.9"/>
<text x="23.90" y="307.15" font-family="'Liberation Serif', 'Times New Roman', serif" font-size="4.85" font-weight="bold" text-anchor="end" style="stroke-width:0.2px">95 kDa</text>
<line x1="26.0" y1="306.30" x2="29.6" y2="306.30" stroke="#111" stroke-width="0.9"/>
<text x="23.90" y="325.35" font-family="'Liberation Serif', 'Times New Roman', serif" font-size="4.85" font-weight="bold" text-anchor="end" style="stroke-width:0.2px">42 kDa</text>
<line x1="26.0" y1="324.50" x2="29.6" y2="324.50" stroke="#111" stroke-width="0.9"/>
<text x="119.40" y="283.15" font-family="'Liberation Serif', 'Times New Roman', serif" font-size="4.85" font-weight="bold" text-anchor="end" style="stroke-width:0.2px">95 kDa</text>
<line x1="120.3" y1="282.30" x2="123.3" y2="282.30" stroke="#111" stroke-width="0.9"/>
<text x="119.40" y="306.35" font-family="'Liberation Serif', 'Times New Roman', serif" font-size="4.85" font-weight="bold" text-anchor="end" style="stroke-width:0.2px">95 kDa</text>
<line x1="120.3" y1="305.50" x2="123.3" y2="305.50" stroke="#111" stroke-width="0.9"/>
<text x="119.40" y="325.15" font-family="'Liberation Serif', 'Times New Roman', serif" font-size="4.85" font-weight="bold" text-anchor="end" style="stroke-width:0.2px">42 kDa</text>
<line x1="120.3" y1="324.30" x2="123.3" y2="324.30" stroke="#111" stroke-width="0.9"/>
<text x="224.70" y="277.20" font-family="'Liberation Serif', 'Times New Roman', serif" font-size="6.8" font-weight="bold" text-anchor="start" >Anti GBA2</text>
<text x="224.70" y="305.80" font-family="'Liberation Serif', 'Times New Roman', serif" font-size="6.8" font-weight="bold" text-anchor="start" >Anti-FLAG-tag</text>
<text x="224.70" y="326.80" font-family="'Liberation Serif', 'Times New Roman', serif" font-size="6.8" font-weight="bold" text-anchor="start" >β-actin</text>
<text x="280.00" y="203.60" font-family="'Liberation Serif', 'Times New Roman', serif" font-size="12" font-weight="bold" text-anchor="start" >D. Human GBA2 activity</text>
<line x1="342.4" y1="218.3" x2="342.4" y2="289.8" stroke="#000" stroke-width="1"/>
<line x1="342.4" y1="297.3" x2="342.4" y2="321.8" stroke="#000" stroke-width="1"/>
<line x1="340.79999999999995" y1="289.6" x2="344.0" y2="289.6" stroke="#000" stroke-width="1"/>
<line x1="340.79999999999995" y1="297.5" x2="344.0" y2="297.5" stroke="#000" stroke-width="1"/>
<line x1="341.9" y1="321.3" x2="547.0" y2="321.3" stroke="#000" stroke-width="1"/>
<line x1="338.59999999999997" y1="218.3" x2="342.4" y2="218.3" stroke="#000" stroke-width="1"/>
<text x="337.0" y="220.90" font-family="'Liberation Sans', Arial, sans-serif" font-size="7.4" font-weight="bold" text-anchor="end" style="stroke-width:0.15px">3.0<tspan font-size="5.6" font-weight="normal" style="stroke-width:0">x</tspan>10<tspan font-size="4.8" font-weight="bold" dy="-2.8" style="stroke-width:0">-2</tspan></text>
<line x1="338.59999999999997" y1="232.5" x2="342.4" y2="232.5" stroke="#000" stroke-width="1"/>
<text x="337.0" y="235.10" font-family="'Liberation Sans', Arial, sans-serif" font-size="7.4" font-weight="bold" text-anchor="end" style="stroke-width:0.15px">2.5<tspan font-size="5.6" font-weight="normal" style="stroke-width:0">x</tspan>10<tspan font-size="4.8" font-weight="bold" dy="-2.8" style="stroke-width:0">-2</tspan></text>
<line x1="338.59999999999997" y1="246.7" x2="342.4" y2="246.7" stroke="#000" stroke-width="1"/>
<text x="337.0" y="249.30" font-family="'Liberation Sans', Arial, sans-serif" font-size="7.4" font-weight="bold" text-anchor="end" style="stroke-width:0.15px">2.0<tspan font-size="5.6" font-weight="normal" style="stroke-width:0">x</tspan>10<tspan font-size="4.8" font-weight="bold" dy="-2.8" style="stroke-width:0">-2</tspan></text>
<line x1="338.59999999999997" y1="260.9" x2="342.4" y2="260.9" stroke="#000" stroke-width="1"/>
<text x="337.0" y="263.50" font-family="'Liberation Sans', Arial, sans-serif" font-size="7.4" font-weight="bold" text-anchor="end" style="stroke-width:0.15px">1.5<tspan font-size="5.6" font-weight="normal" style="stroke-width:0">x</tspan>10<tspan font-size="4.8" font-weight="bold" dy="-2.8" style="stroke-width:0">-2</tspan></text>
<line x1="338.59999999999997" y1="275.3" x2="342.4" y2="275.3" stroke="#000" stroke-width="1"/>
<text x="337.0" y="277.90" font-family="'Liberation Sans', Arial, sans-serif" font-size="7.4" font-weight="bold" text-anchor="end" style="stroke-width:0.15px">1.0<tspan font-size="5.6" font-weight="normal" style="stroke-width:0">x</tspan>10<tspan font-size="4.8" font-weight="bold" dy="-2.8" style="stroke-width:0">-2</tspan></text>
<line x1="338.59999999999997" y1="306.8" x2="342.4" y2="306.8" stroke="#000" stroke-width="1"/>
<text x="337.0" y="309.40" font-family="'Liberation Sans', Arial, sans-serif" font-size="7.4" font-weight="bold" text-anchor="end" style="stroke-width:0.15px">4.0<tspan font-size="5.6" font-weight="normal" style="stroke-width:0">x</tspan>10<tspan font-size="4.8" font-weight="bold" dy="-2.8" style="stroke-width:0">-4</tspan></text>
<line x1="338.59999999999997" y1="321.3" x2="342.4" y2="321.3" stroke="#000" stroke-width="1"/>
<text x="337.80" y="323.90" font-family="'Liberation Sans', Arial, sans-serif" font-size="7.4" font-weight="bold" text-anchor="end" >0</text>
<text transform="translate(289.6,268.0) rotate(-90)" font-family="'Liberation Serif', 'Times New Roman', serif" font-size="7.1" font-weight="bold" text-anchor="middle">Relative activity</text>
<text transform="translate(300.2,267.0) rotate(-90)" font-family="'Liberation Serif', 'Times New Roman', serif" font-size="7.1" font-weight="bold" text-anchor="middle">(nmole/min. µg total protein)</text>
<polyline points="345.6,217.2 345.6,214.9 539.8,214.9 539.8,217.2" fill="none" stroke="#333" stroke-width="0.8"/>
<text x="436.80" y="213.60" font-family="'Liberation Sans', Arial, sans-serif" font-size="6.2" font-weight="normal" text-anchor="middle" letter-spacing="0.5" style="stroke-width:0.1px">***</text>
<defs><pattern id="chk" width="3.6" height="3.6" patternUnits="userSpaceOnUse"><rect width="3.6" height="3.6" fill="#fff"/><rect width="1.8" height="1.8" fill="#000"/><rect x="1.8" y="1.8" width="1.8" height="1.8" fill="#000"/></pattern><pattern id="dotp" width="1.4" height="1.4" patternUnits="userSpaceOnUse"><rect width="1.4" height="1.4" fill="#cfcfcf"/><rect width="0.7" height="0.7" fill="#444"/></pattern></defs>
<rect x="345.9" y="219.90" width="8.6" height="4.3" fill="#000" stroke="#000" stroke-width="0.6"/>
<text x="356.90" y="223.30" font-family="'Liberation Serif', 'Times New Roman', serif" font-size="4.0" font-weight="bold" text-anchor="start" style="stroke-width:0.05px">48 h without CBE</text>
<rect x="345.9" y="226.20" width="8.6" height="4.3" fill="#fff" stroke="#000" stroke-width="0.6"/>
<text x="356.90" y="229.60" font-family="'Liberation Serif', 'Times New Roman', serif" font-size="4.0" font-weight="bold" text-anchor="start" style="stroke-width:0.05px">48 h with CBE</text>
<rect x="345.9" y="232.50" width="8.6" height="4.3" fill="url(#chk)" stroke="#000" stroke-width="0.6"/>
<text x="356.90" y="235.90" font-family="'Liberation Serif', 'Times New Roman', serif" font-size="4.0" font-weight="bold" text-anchor="start" style="stroke-width:0.05px">72 h without CBE</text>
<rect x="345.9" y="238.70" width="8.6" height="4.3" fill="url(#dotp)" stroke="#000" stroke-width="0.6"/>
<text x="356.90" y="242.10" font-family="'Liberation Serif', 'Times New Roman', serif" font-size="4.0" font-weight="bold" text-anchor="start" style="stroke-width:0.05px">72 h with CBE</text>
<rect x="345.00" y="311.30" width="2.70" height="10.00" fill="#000"/>
<rect x="349.45" y="312.35" width="1.90" height="8.95" fill="#fff" stroke="#000" stroke-width="0.55"/>
<rect x="353.75" y="307.75" width="2.30" height="13.55" fill="url(#chk)" stroke="#000" stroke-width="0.55"/>
<circle cx="354.90" cy="308.20" r="1.3" fill="#fff" stroke="#000" stroke-width="0.7"/>
<rect x="357.65" y="309.15" width="2.90" height="12.15" fill="url(#dotp)" stroke="#000" stroke-width="0.55"/>
<rect x="365.08" y="308.40" width="2.70" height="12.90" fill="#000"/>
<rect x="369.53" y="309.85" width="1.90" height="11.45" fill="#fff" stroke="#000" stroke-width="0.55"/>
<rect x="373.83" y="305.05" width="2.30" height="16.25" fill="url(#chk)" stroke="#000" stroke-width="0.55"/>
<circle cx="374.98" cy="305.50" r="1.3" fill="#fff" stroke="#000" stroke-width="0.7"/>
<rect x="377.73" y="309.45" width="2.90" height="11.85" fill="url(#dotp)" stroke="#000" stroke-width="0.55"/>
<rect x="385.16" y="308.40" width="2.70" height="12.90" fill="#000"/>
<rect x="389.61" y="309.85" width="1.90" height="11.45" fill="#fff" stroke="#000" stroke-width="0.55"/>
<rect x="393.91" y="305.55" width="2.30" height="15.75" fill="url(#chk)" stroke="#000" stroke-width="0.55"/>
<circle cx="395.06" cy="306.00" r="1.3" fill="#fff" stroke="#000" stroke-width="0.7"/>
<rect x="397.81" y="309.15" width="2.90" height="12.15" fill="url(#dotp)" stroke="#000" stroke-width="0.55"/>
<rect x="405.24" y="308.80" width="2.70" height="12.50" fill="#000"/>
<rect x="409.69" y="309.85" width="1.90" height="11.45" fill="#fff" stroke="#000" stroke-width="0.55"/>
<rect x="413.99" y="305.55" width="2.30" height="15.75" fill="url(#chk)" stroke="#000" stroke-width="0.55"/>
<circle cx="415.14" cy="306.00" r="1.3" fill="#fff" stroke="#000" stroke-width="0.7"/>
<rect x="417.89" y="309.15" width="2.90" height="12.15" fill="url(#dotp)" stroke="#000" stroke-width="0.55"/>
<rect x="425.32" y="310.00" width="2.70" height="11.30" fill="#000"/>
<rect x="429.77" y="311.45" width="1.90" height="9.85" fill="#fff" stroke="#000" stroke-width="0.55"/>
<rect x="434.07" y="305.05" width="2.30" height="16.25" fill="url(#chk)" stroke="#000" stroke-width="0.55"/>
<circle cx="435.22" cy="305.50" r="1.3" fill="#fff" stroke="#000" stroke-width="0.7"/>
<rect x="437.97" y="308.65" width="2.90" height="12.65" fill="url(#dotp)" stroke="#000" stroke-width="0.55"/>
<rect x="445.40" y="305.20" width="2.70" height="16.10" fill="#000"/>
<rect x="449.85" y="308.15" width="1.90" height="13.15" fill="#fff" stroke="#000" stroke-width="0.55"/>
<rect x="454.15" y="305.05" width="2.30" height="16.25" fill="url(#chk)" stroke="#000" stroke-width="0.55"/>
<circle cx="455.30" cy="305.50" r="1.3" fill="#fff" stroke="#000" stroke-width="0.7"/>
<rect x="458.05" y="308.65" width="2.90" height="12.65" fill="url(#dotp)" stroke="#000" stroke-width="0.55"/>
<rect x="465.48" y="308.30" width="2.70" height="13.00" fill="#000"/>
<rect x="469.93" y="310.55" width="1.90" height="10.75" fill="#fff" stroke="#000" stroke-width="0.55"/>
<rect x="474.23" y="304.35" width="2.30" height="16.95" fill="url(#chk)" stroke="#000" stroke-width="0.55"/>
<circle cx="475.38" cy="304.80" r="1.3" fill="#fff" stroke="#000" stroke-width="0.7"/>
<rect x="478.13" y="307.95" width="2.90" height="13.35" fill="url(#dotp)" stroke="#000" stroke-width="0.55"/>
<rect x="485.56" y="309.50" width="2.70" height="11.80" fill="#000"/>
<rect x="490.01" y="309.85" width="1.90" height="11.45" fill="#fff" stroke="#000" stroke-width="0.55"/>
<rect x="494.31" y="303.85" width="2.30" height="17.45" fill="url(#chk)" stroke="#000" stroke-width="0.55"/>
<circle cx="495.46" cy="304.30" r="1.3" fill="#fff" stroke="#000" stroke-width="0.7"/>
<rect x="498.21" y="306.25" width="2.90" height="15.05" fill="url(#dotp)" stroke="#000" stroke-width="0.55"/>
<rect x="505.64" y="309.00" width="2.70" height="12.30" fill="#000"/>
<rect x="510.09" y="310.95" width="1.90" height="10.35" fill="#fff" stroke="#000" stroke-width="0.55"/>
<rect x="514.39" y="305.05" width="2.30" height="16.25" fill="url(#chk)" stroke="#000" stroke-width="0.55"/>
<circle cx="515.54" cy="305.50" r="1.3" fill="#fff" stroke="#000" stroke-width="0.7"/>
<rect x="518.29" y="308.65" width="2.90" height="12.65" fill="url(#dotp)" stroke="#000" stroke-width="0.55"/>
<line x1="526.70" y1="228.6" x2="526.70" y2="231.3" stroke="#000" stroke-width="0.6"/>
<line x1="525.70" y1="228.6" x2="527.70" y2="228.6" stroke="#000" stroke-width="0.6"/>
<rect x="525.10" y="231.30" width="3.20" height="58.10" fill="#000"/>
<rect x="525.10" y="297.00" width="3.20" height="24.30" fill="#000"/>
<line x1="530.65" y1="241.0" x2="530.65" y2="247.0" stroke="#000" stroke-width="0.6"/>
<line x1="529.65" y1="241.0" x2="531.65" y2="241.0" stroke="#000" stroke-width="0.6"/>
<rect x="529.05" y="247.35" width="3.20" height="42.05" fill="#fff" stroke="#000" stroke-width="0.55"/>
<rect x="529.05" y="297.35" width="3.20" height="23.95" fill="#fff" stroke="#000" stroke-width="0.55"/>
<line x1="535.05" y1="274.9" x2="535.05" y2="276.5" stroke="#000" stroke-width="0.6"/>
<line x1="534.05" y1="274.9" x2="536.05" y2="274.9" stroke="#000" stroke-width="0.6"/>
<rect x="533.65" y="276.85" width="2.80" height="12.55" fill="url(#chk)" stroke="#000" stroke-width="0.55"/>
<rect x="533.65" y="297.35" width="2.80" height="23.95" fill="url(#chk)" stroke="#000" stroke-width="0.55"/>
<line x1="538.90" y1="280.0" x2="538.90" y2="281.6" stroke="#000" stroke-width="0.6"/>
<line x1="537.90" y1="280.0" x2="539.90" y2="280.0" stroke="#000" stroke-width="0.6"/>
<rect x="537.35" y="281.95" width="3.10" height="7.45" fill="url(#dotp)" stroke="#000" stroke-width="0.55"/>
<rect x="537.35" y="297.35" width="3.10" height="23.95" fill="url(#dotp)" stroke="#000" stroke-width="0.55"/>
<line x1="525.4" y1="225.6" x2="532.7" y2="225.6" stroke="#000" stroke-width="0.6"/>
<text x="529.20" y="223.90" font-family="'Liberation Sans', Arial, sans-serif" font-size="5.6" font-weight="normal" text-anchor="middle" letter-spacing="0.5" style="stroke-width:0.1px">**</text>
<line x1="533.0" y1="271.6" x2="541.0" y2="271.6" stroke="#000" stroke-width="0.6"/>
<text x="537.20" y="270.70" font-family="'Liberation Sans', Arial, sans-serif" font-size="5.6" font-weight="normal" text-anchor="middle" letter-spacing="0.4" style="stroke-width:0.1px">***</text>
<text transform="translate(358.00,328.6) rotate(-60)" font-family="'Liberation Serif', 'Times New Roman', serif" font-size="7.2" font-weight="bold" text-anchor="end">Empty vector</text>
<text transform="translate(378.08,328.6) rotate(-60)" font-family="'Liberation Serif', 'Times New Roman', serif" font-size="7.2" font-weight="bold" text-anchor="end">IsoformX1</text>
<text transform="translate(398.16,328.6) rotate(-60)" font-family="'Liberation Serif', 'Times New Roman', serif" font-size="7.2" font-weight="bold" text-anchor="end">IsoformX2</text>
<text transform="translate(418.24,328.6) rotate(-60)" font-family="'Liberation Serif', 'Times New Roman', serif" font-size="7.2" font-weight="bold" text-anchor="end">IsoformX3</text>
<text transform="translate(438.32,328.6) rotate(-60)" font-family="'Liberation Serif', 'Times New Roman', serif" font-size="7.2" font-weight="bold" text-anchor="end">IsoformX4</text>
<text transform="translate(458.40,328.6) rotate(-60)" font-family="'Liberation Serif', 'Times New Roman', serif" font-size="7.2" font-weight="bold" text-anchor="end">IsoformX6</text>
<text transform="translate(478.48,328.6) rotate(-60)" font-family="'Liberation Serif', 'Times New Roman', serif" font-size="7.2" font-weight="bold" text-anchor="end">IsoformX7</text>
<text transform="translate(498.56,328.6) rotate(-60)" font-family="'Liberation Serif', 'Times New Roman', serif" font-size="7.2" font-weight="bold" text-anchor="end">IsoformX8</text>
<text transform="translate(518.64,328.6) rotate(-60)" font-family="'Liberation Serif', 'Times New Roman', serif" font-size="7.2" font-weight="bold" text-anchor="end">Isoform2</text>
<text transform="translate(538.72,328.6) rotate(-60)" font-family="'Liberation Serif', 'Times New Roman', serif" font-size="7.2" font-weight="bold" text-anchor="end">Isoform1</text>
</svg>
</body></html>
